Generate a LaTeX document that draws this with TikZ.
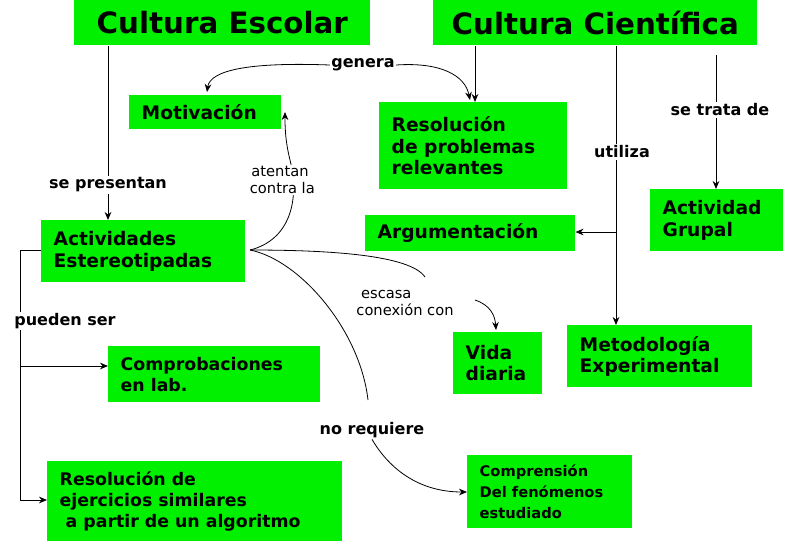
\documentclass[tikz,border=0pt]{standalone}
\usepackage{fontspec}
\setmainfont{DejaVu Sans}
\usetikzlibrary{arrows.meta}
\definecolor{gr}{HTML}{00F000}
\tikzset{
 box/.style={fill=gr,inner sep=0pt,font=\bfseries,text=black},
 lbl/.style={font=\bfseries\fontsize{12}{14}\selectfont,fill=white,inner sep=1pt,align=center},
 con/.style={-{Stealth[length=6pt,width=5pt]},black,line width=0.6pt},
 pl/.style={black,line width=0.6pt}
}
\newcommand{\bx}[6]{\node[box,minimum width=#3*0.75pt-#1*0.75pt,minimum height=#4*0.75pt-#2*0.75pt,anchor=north west] (#5) at (#1,#2) {}; \node[anchor=west,align=left,font=\bfseries\fontsize{14}{16}\selectfont] at ([xshift=6pt]#5.west) {#6};}
\begin{document}
\begin{tikzpicture}[x=0.75pt,y=-0.75pt]
\useasboundingbox (0,0) rectangle (785,544);
\node[box,minimum width=222pt,minimum height=33.75pt,anchor=north west,font=\bfseries\fontsize{22}{26}\selectfont] (ce) at (74,0) {Cultura Escolar};
\node[box,minimum width=243pt,minimum height=33.75pt,anchor=north west,font=\bfseries\fontsize{22}{26}\selectfont] (cc) at (433,0) {Cultura Científica};
\bx{129}{95}{281}{129}{mot}{Motivación}
\bx{379}{102}{567}{189}{res}{Resolución\\de problemas\\relevantes}
\bx{41}{220}{245}{282}{act}{Actividades\\Estereotipadas}
\bx{365}{215}{575}{251}{arg}{Argumentación}
\bx{650}{189}{783}{251}{gru}{Actividad\\Grupal}
\bx{108}{346}{320}{402}{com}{\fontsize{13}{15}\selectfont Comprobaciones\\\fontsize{13}{15}\selectfont en lab.}
\bx{453}{332}{542}{394}{vid}{Vida\\diaria}
\bx{567}{325}{752}{387}{met}{Metodología\\Experimental}
\bx{47}{461}{342}{541}{eje}{\fontsize{13}{16}\selectfont Resolución de\\\fontsize{13}{16}\selectfont ejercicios similares\\\fontsize{13}{16}\selectfont\ a partir de un algoritmo}
\bx{467}{455}{632}{528}{cmp}{\fontsize{11}{14}\selectfont Comprensión\\\fontsize{11}{14}\selectfont Del fenómenos\\\fontsize{11}{14}\selectfont estudiado}
% escolar
\draw[con] (ce.south -| 108,0) -- (act.north -| 108,0);
\node[lbl] at (108,185) {se presentan};
% cientifica
\draw[con] (cc.south -| 475,0) -- (res.north -| 475,0);
\coordinate (m1) at (616,232);
\draw[con] (cc.south -| 616,0) -- (met.north -| 616,0);
\draw[con] (m1) -- (arg.east |- m1);
\node[lbl] at (622,152) {utiliza};
\draw[con] (716,55) -- (gru.north -| 716,0);
\node[lbl] at (720,110) {se trata de};
% genera
\node[lbl] (gen) at (363,65) {genera};
\draw[con] (gen.west) .. controls (250,62) and (210,70) .. (207,92);
\draw[con] (gen.east) .. controls (440,62) and (465,75) .. (470,100);
% left
\coordinate (l0) at (20,250);
\draw[pl] (act.west |- l0) -- (l0) -- (20,500);
\draw[con] (20,366) -- (com.west |- 0,366);
\draw[con] (20,500) -- (eje.west |- 0,500);
\node[lbl] at (65,321) {pueden ser};
% curves from act
\coordinate (a0) at (250,250);
\draw[con] (a0) .. controls (290,240) and (300,200) .. (290,160) .. controls (285,140) and (285,125) .. (285,112);
\node[font=\fontsize{11}{13}\selectfont,align=center,fill=white,inner sep=1pt] at (280,180) {atentan\\\ contra la};
\draw[pl] (a0) .. controls (330,250) and (410,255) .. (425,277);
\draw[con] (475,300) .. controls (490,305) and (495,315) .. (496,330);
\node[font=\fontsize{11}{13}\selectfont,align=left,inner sep=1pt] at (405,303) {\ escasa\\conexión con};
\draw[pl] (a0) .. controls (300,260) and (360,330) .. (368,400);
\node[lbl] (nr) at (372,430) {no requiere};
\draw[con] (nr.south) .. controls (390,470) and (420,492) .. (cmp.west |- 0,492);
\end{tikzpicture}
\end{document}
